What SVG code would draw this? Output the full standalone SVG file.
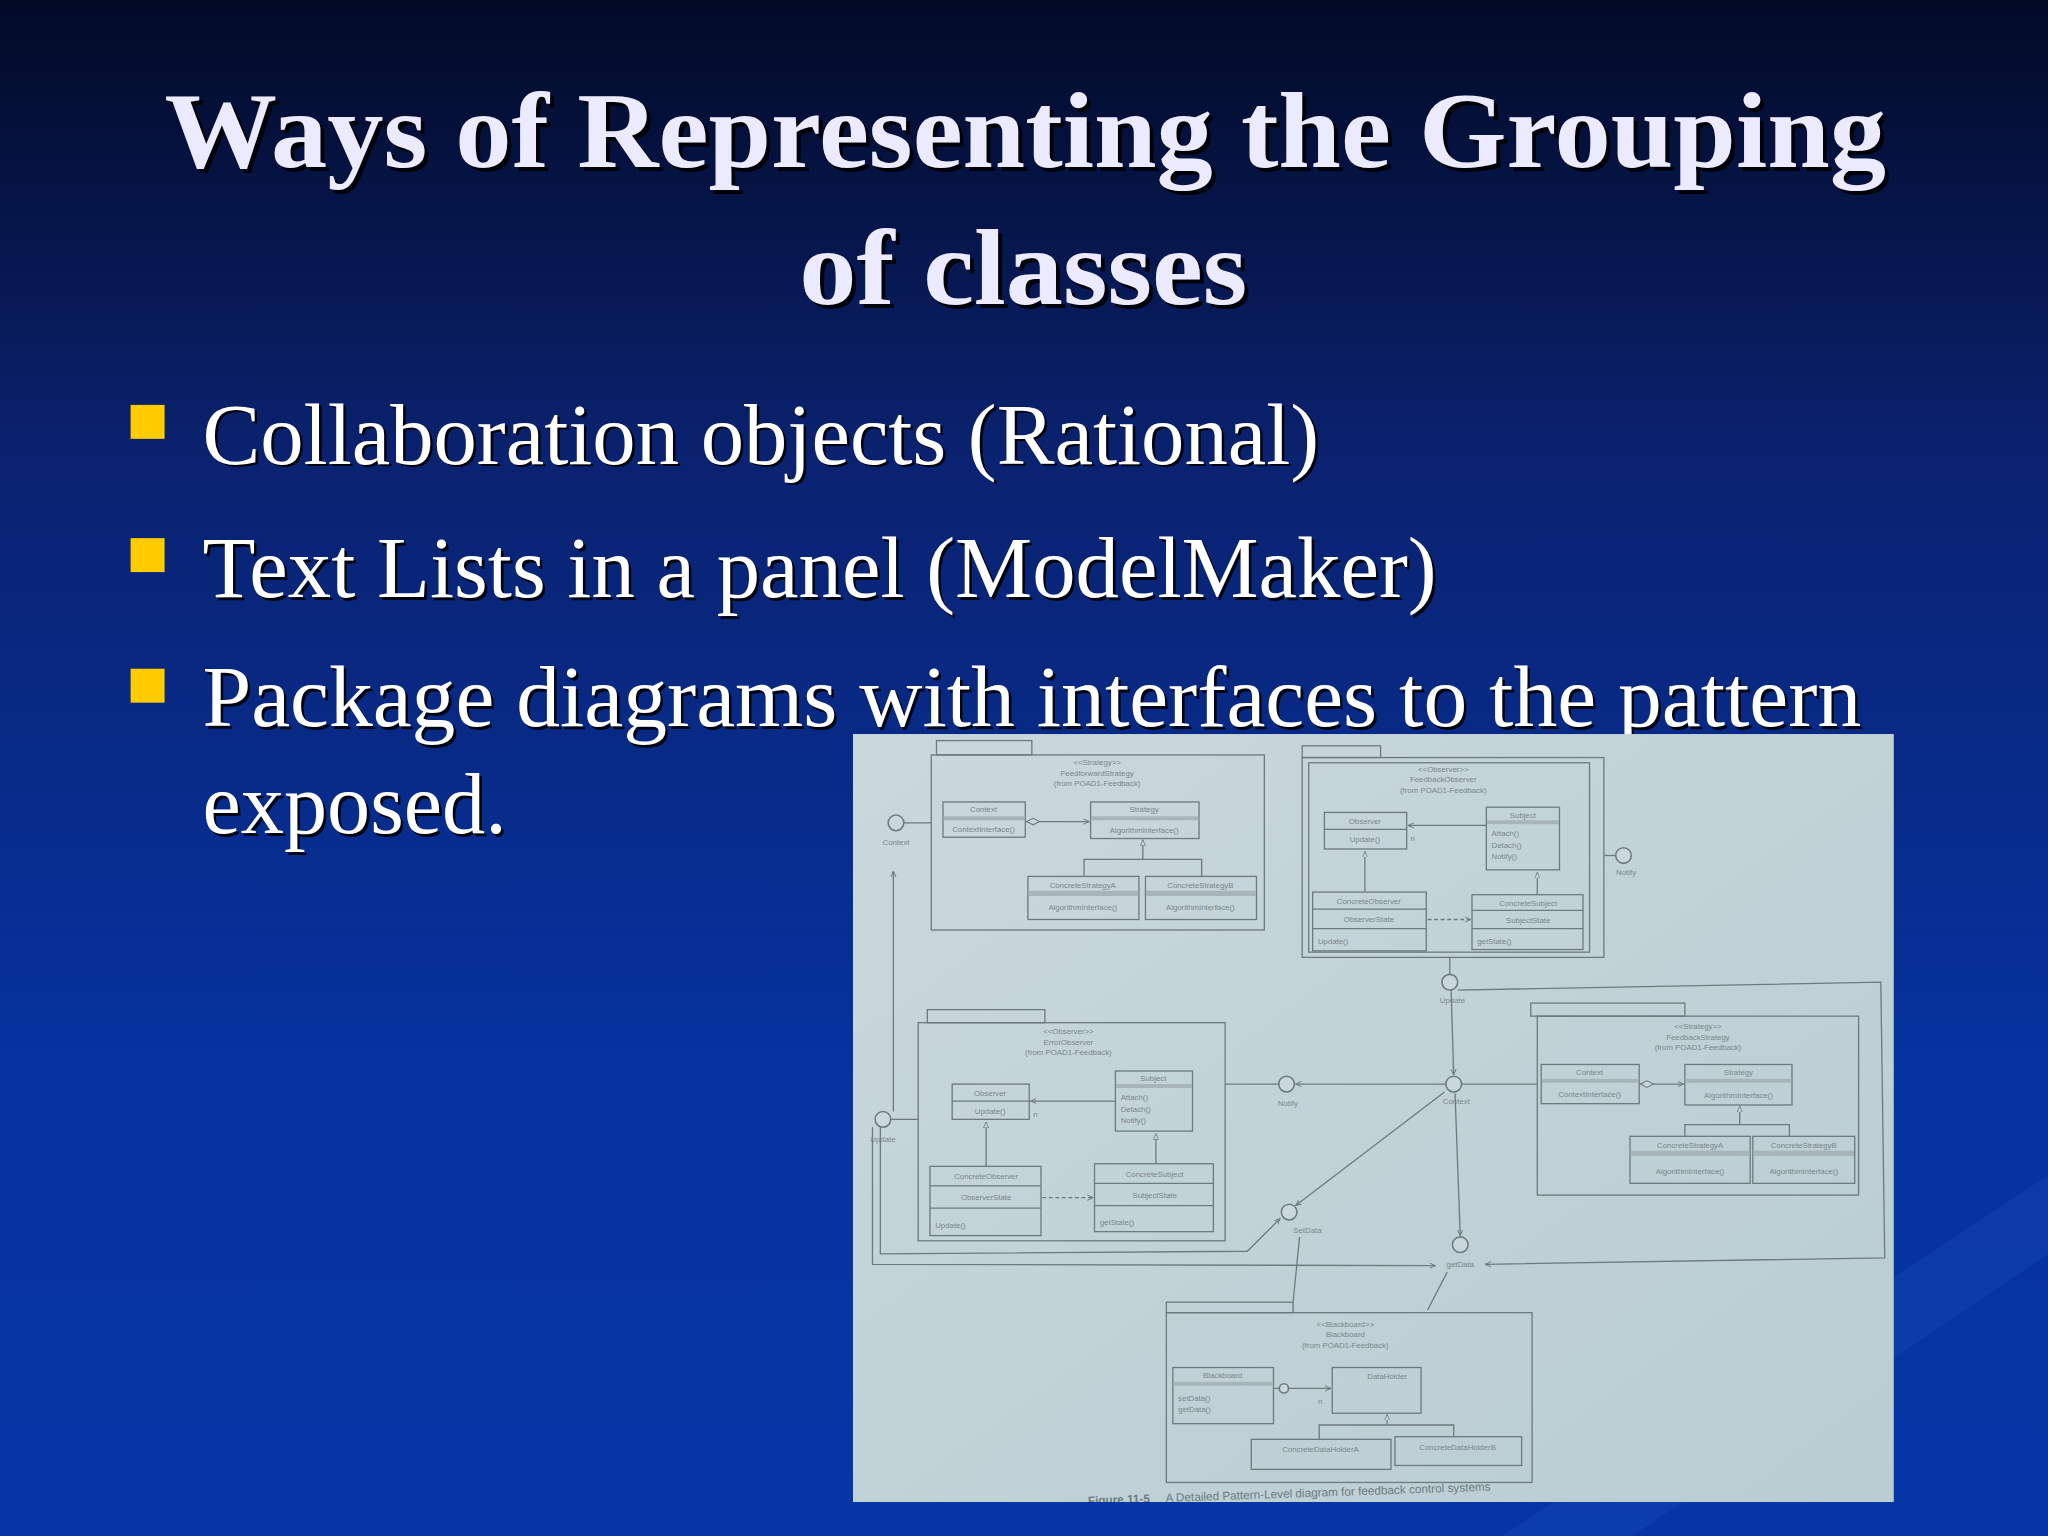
<svg xmlns="http://www.w3.org/2000/svg" width="2048" height="1536" viewBox="0 0 2048 1536">
<defs>
<linearGradient id="bg" x1="0" y1="0" x2="0" y2="1">
<stop offset="0" stop-color="#020a26"/><stop offset="0.3" stop-color="#0a2270"/><stop offset="0.7" stop-color="#0533a0"/><stop offset="1" stop-color="#0636a6"/>
</linearGradient>
<linearGradient id="ph" x1="0" y1="0" x2="1" y2="1">
<stop offset="0" stop-color="#c9d8dc"/><stop offset="1" stop-color="#b9cdd2"/>
</linearGradient>
<marker id="ar" viewBox="0 0 10 10" refX="9" refY="5" markerWidth="5" markerHeight="5" orient="auto"><path d="M0,1 L9,5 L0,9" fill="none" stroke="#6d7a7e" stroke-width="1.5"/></marker>
<marker id="tri" viewBox="0 0 10 10" refX="9" refY="5" markerWidth="5" markerHeight="5" orient="auto"><path d="M0,1 L9,5 L0,9 Z" fill="#c9d8dc" stroke="#6d7a7e" stroke-width="1.2"/></marker>
<clipPath id="pc"><rect x="653" y="562" width="797" height="588"/></clipPath>
<style>
.t{font-family:"Liberation Serif",serif;font-weight:bold;fill:#eceaff;}
.b{font-family:"Liberation Serif",serif;fill:#ffffff;}
.sh{fill:#000;opacity:0.85;}
.f{font-family:"Liberation Sans",Arial,sans-serif;font-size:6px;fill:#7a8689;text-anchor:middle;}
.fl{font-family:"Liberation Sans",Arial,sans-serif;font-size:6px;fill:#7a8689;}
.bx{fill:none;stroke:#6d7a7e;stroke-width:1;}
.band{fill:#a7b5b9;}
.ln{fill:none;stroke:#6d7a7e;stroke-width:1;}
.dl{fill:none;stroke:#6d7a7e;stroke-width:1;stroke-dasharray:3 2;}
.ci{fill:#c9d8dc;stroke:#6d7a7e;stroke-width:1.2;}
</style>
</defs>
<rect width="2048" height="1536" fill="url(#bg)"/>
<g transform="scale(1.30612)">
<path d="M1568,900 L1568,960 L1250,1176 L1150,1176 Z" fill="#1a4ab8" opacity="0.35"/>
<g id="title">
<text class="t sh" x="129" y="131" font-size="82" textLength="1318" lengthAdjust="spacingAndGlyphs">Ways of Representing the Grouping</text>
<text class="t" x="126" y="128" font-size="82" textLength="1318" lengthAdjust="spacingAndGlyphs">Ways of Representing the Grouping</text>
<text class="t sh" x="615" y="236" font-size="82" textLength="343" lengthAdjust="spacingAndGlyphs">of classes</text>
<text class="t" x="612" y="233" font-size="82" textLength="343" lengthAdjust="spacingAndGlyphs">of classes</text>
</g>
<g id="bullets">
<rect x="100" y="310" width="26" height="26" fill="#ffcc00"/>
<rect x="100" y="412" width="26" height="26" fill="#ffcc00"/>
<rect x="100" y="512" width="26" height="26" fill="#ffcc00"/>
<text class="b sh" x="157" y="357" font-size="66" textLength="855" lengthAdjust="spacingAndGlyphs">Collaboration objects (Rational)</text>
<text class="b" x="155" y="355" font-size="66" textLength="855" lengthAdjust="spacingAndGlyphs">Collaboration objects (Rational)</text>
<text class="b sh" x="157" y="459" font-size="66" textLength="945" lengthAdjust="spacingAndGlyphs">Text Lists in a panel (ModelMaker)</text>
<text class="b" x="155" y="457" font-size="66" textLength="945" lengthAdjust="spacingAndGlyphs">Text Lists in a panel (ModelMaker)</text>
<text class="b sh" x="157" y="558" font-size="66" textLength="1270" lengthAdjust="spacingAndGlyphs">Package diagrams with interfaces to the pattern</text>
<text class="b" x="155" y="556" font-size="66" textLength="1270" lengthAdjust="spacingAndGlyphs">Package diagrams with interfaces to the pattern</text>
<text class="b sh" x="157" y="640" font-size="66" textLength="233" lengthAdjust="spacingAndGlyphs">exposed.</text>
<text class="b" x="155" y="638" font-size="66" textLength="233" lengthAdjust="spacingAndGlyphs">exposed.</text>
</g>
<g id="figure" clip-path="url(#pc)">
<rect x="653" y="562" width="797" height="588" fill="url(#ph)"/>

<g id="pkg-feedforward">
<rect class="bx" x="717" y="567" width="73" height="11"/>
<rect class="bx" x="713" y="578" width="255" height="134"/>
<text class="f" x="840" y="586">&lt;&lt;Strategy&gt;&gt;</text>
<text class="f" x="840" y="594">FeedforwardStrategy</text>
<text class="f" x="840" y="602">(from POAD1-Feedback)</text>
<rect class="bx" x="722" y="614" width="63" height="27"/><rect class="band" x="722.5" y="625" width="62" height="3"/><text class="f" x="753" y="622">Context</text><text class="f" x="753" y="637">ContextInterface()</text>
<rect class="bx" x="835" y="614" width="83" height="28"/><rect class="band" x="835.5" y="625" width="82" height="3"/><text class="f" x="876" y="622">Strategy</text><text class="f" x="876" y="638">AlgorithmInterface()</text>
<rect class="bx" x="787" y="671" width="85" height="33"/><rect class="band" x="787.5" y="682" width="84" height="4"/><text class="f" x="829" y="680">ConcreteStrategyA</text><text class="f" x="829" y="697">AlgorithmInterface()</text>
<rect class="bx" x="877" y="671" width="85" height="33"/><rect class="band" x="877.5" y="682" width="84" height="4"/><text class="f" x="919" y="680">ConcreteStrategyB</text><text class="f" x="919" y="697">AlgorithmInterface()</text>
<path class="ln" d="M785,629 L834,629" marker-end="url(#ar)"/><path d="M786,629 l5,-2.5 l5,2.5 l-5,2.5 Z" fill="#c9d8dc" stroke="#6d7a7e" stroke-width="0.8"/>
<path class="ln" d="M830,671 V658 H920 V671 M875,658 V643" marker-end="url(#tri)"/>
</g>

<g id="pkg-feedbackobserver">
<rect class="bx" x="997" y="571" width="60" height="9"/>
<rect class="bx" x="997" y="580" width="231" height="153"/>
<rect class="bx" x="1002" y="584" width="215" height="145"/>
<text class="f" x="1105" y="591">&lt;&lt;Observer&gt;&gt;</text>
<text class="f" x="1105" y="599">FeedbackObserver</text>
<text class="f" x="1105" y="607">(from POAD1-Feedback)</text>
<rect class="bx" x="1014" y="622" width="63" height="28"/><line class="ln" x1="1014" y1="635" x2="1077" y2="635"/><text class="f" x="1045" y="631">Observer</text><text class="f" x="1045" y="645">Update()</text>
<rect class="bx" x="1138" y="618" width="56" height="48"/><rect class="band" x="1138.5" y="628" width="55" height="3"/><text class="f" x="1166" y="626">Subject</text><text class="fl" x="1142" y="640">Attach()</text><text class="fl" x="1142" y="649">Detach()</text><text class="fl" x="1142" y="658">Notify()</text>
<path class="ln" d="M1138,632 L1078,632" marker-end="url(#ar)"/><text class="fl" x="1080" y="644">n</text>
<rect class="bx" x="1005" y="683" width="87" height="45"/><line class="ln" x1="1005" y1="696" x2="1092" y2="696"/><line class="ln" x1="1005" y1="711" x2="1092" y2="711"/><text class="f" x="1048" y="692">ConcreteObserver</text><text class="f" x="1048" y="706">ObserverState</text><text class="fl" x="1009" y="723">Update()</text>
<rect class="bx" x="1127" y="685" width="85" height="42"/><line class="ln" x1="1127" y1="697" x2="1212" y2="697"/><line class="ln" x1="1127" y1="711" x2="1212" y2="711"/><text class="f" x="1170" y="694">ConcreteSubject</text><text class="f" x="1170" y="707">SubjectState</text><text class="fl" x="1131" y="723">getState()</text>
<path class="dl" d="M1093,704 L1126,704" marker-end="url(#ar)"/>
<path class="ln" d="M1045,683 V652" marker-end="url(#tri)"/>
<path class="ln" d="M1177,685 V668" marker-end="url(#tri)"/>
</g>

<g id="pkg-errorobserver">
<rect class="bx" x="710" y="773" width="90" height="10"/>
<rect class="bx" x="703" y="783" width="235" height="167"/>
<text class="f" x="818" y="792">&lt;&lt;Observer&gt;&gt;</text>
<text class="f" x="818" y="800">ErrorObserver</text>
<text class="f" x="818" y="808">(from POAD1-Feedback)</text>
<rect class="bx" x="729" y="830" width="59" height="27"/><line class="ln" x1="729" y1="843" x2="788" y2="843"/><text class="f" x="758" y="839">Observer</text><text class="f" x="758" y="853">Update()</text>
<rect class="bx" x="854" y="820" width="59" height="46"/><rect class="band" x="854.5" y="830" width="58" height="3"/><text class="f" x="883" y="828">Subject</text><text class="fl" x="858" y="842">Attach()</text><text class="fl" x="858" y="851">Detach()</text><text class="fl" x="858" y="860">Notify()</text>
<path class="ln" d="M854,843 L789,843" marker-end="url(#ar)"/><text class="fl" x="791" y="855">n</text>
<rect class="bx" x="712" y="893" width="85" height="53"/><line class="ln" x1="712" y1="908" x2="797" y2="908"/><line class="ln" x1="712" y1="925" x2="797" y2="925"/><text class="f" x="755" y="903">ConcreteObserver</text><text class="f" x="755" y="919">ObserverState</text><text class="fl" x="716" y="940">Update()</text>
<rect class="bx" x="838" y="891" width="91" height="52"/><line class="ln" x1="838" y1="906" x2="929" y2="906"/><line class="ln" x1="838" y1="923" x2="929" y2="923"/><text class="f" x="884" y="901">ConcreteSubject</text><text class="f" x="884" y="917">SubjectState</text><text class="fl" x="842" y="938">getState()</text>
<path class="dl" d="M798,917 L837,917" marker-end="url(#ar)"/>
<path class="ln" d="M755,893 V859" marker-end="url(#tri)"/>
<path class="ln" d="M885,891 V868" marker-end="url(#tri)"/>
</g>

<g id="pkg-feedbackstrategy">
<rect class="bx" x="1172" y="768" width="118" height="10"/>
<rect class="bx" x="1177" y="778" width="246" height="137"/>
<text class="f" x="1300" y="788">&lt;&lt;Strategy&gt;&gt;</text>
<text class="f" x="1300" y="796">FeedbackStrategy</text>
<text class="f" x="1300" y="804">(from POAD1-Feedback)</text>
<rect class="bx" x="1180" y="815" width="75" height="30"/><rect class="band" x="1180.5" y="826" width="74" height="3"/><text class="f" x="1217" y="823">Context</text><text class="f" x="1217" y="840">ContextInterface()</text>
<rect class="bx" x="1290" y="815" width="82" height="31"/><rect class="band" x="1290.5" y="826" width="81" height="3"/><text class="f" x="1331" y="823">Strategy</text><text class="f" x="1331" y="841">AlgorithmInterface()</text>
<rect class="bx" x="1248" y="870" width="92" height="36"/><rect class="band" x="1248.5" y="881" width="91" height="4"/><text class="f" x="1294" y="879">ConcreteStrategyA</text><text class="f" x="1294" y="899">AlgorithmInterface()</text>
<rect class="bx" x="1342" y="870" width="78" height="36"/><rect class="band" x="1342.5" y="881" width="77" height="4"/><text class="f" x="1381" y="879">ConcreteStrategyB</text><text class="f" x="1381" y="899">AlgorithmInterface()</text>
<path class="ln" d="M1255,830 L1289,830" marker-end="url(#ar)"/><path d="M1256,830 l5,-2.5 l5,2.5 l-5,2.5 Z" fill="#c9d8dc" stroke="#6d7a7e" stroke-width="0.8"/>
<path class="ln" d="M1290,870 V861 H1370 V870 M1332,861 V847" marker-end="url(#tri)"/>
</g>

<g id="pkg-blackboard">
<rect class="bx" x="893" y="997" width="97" height="8"/>
<rect class="bx" x="893" y="1005" width="280" height="130"/>
<text class="f" x="1030" y="1016">&lt;&lt;Blackboard&gt;&gt;</text>
<text class="f" x="1030" y="1024">Blackboard</text>
<text class="f" x="1030" y="1032">(from POAD1-Feedback)</text>
<rect class="bx" x="898" y="1047" width="77" height="43"/><rect class="band" x="898.5" y="1058" width="76" height="3"/><text class="f" x="936" y="1055">Blackboard</text><text class="fl" x="902" y="1073">setData()</text><text class="fl" x="902" y="1081">getData()</text>
<rect class="bx" x="1020" y="1047" width="68" height="35"/><text class="f" x="1062" y="1056">DataHolder</text>
<path class="ln" d="M975,1063 L1019,1063" marker-end="url(#ar)"/><circle class="ci" cx="983" cy="1063" r="3.5"/><text class="fl" x="1009" y="1075">n</text>
<rect class="bx" x="958" y="1102" width="107" height="23"/><text class="f" x="1011" y="1112">ConcreteDataHolderA</text>
<rect class="bx" x="1068" y="1100" width="97" height="22"/><text class="f" x="1116" y="1110">ConcreteDataHolderB</text>
<path class="ln" d="M1010,1102 V1091 H1113 V1100 M1062,1091 V1083" marker-end="url(#tri)"/>
</g>

<g id="interfaces">
<circle class="ci" cx="686" cy="630" r="6"/><text class="f" x="686" y="647">Context</text>
<circle class="ci" cx="1243" cy="655" r="6"/><text class="f" x="1245" y="670">Notify</text>
<circle class="ci" cx="1110" cy="752" r="6"/><text class="f" x="1112" y="768">Update</text>
<circle class="ci" cx="676" cy="857" r="6"/><text class="f" x="676" y="874">Update</text>
<circle class="ci" cx="985" cy="830" r="6"/><text class="f" x="986" y="847">Notify</text>
<circle class="ci" cx="1113" cy="830" r="6"/><text class="f" x="1115" y="845">Context</text>
<circle class="ci" cx="987" cy="928" r="6"/><text class="f" x="1001" y="944">SetData</text>
<circle class="ci" cx="1118" cy="953" r="6"/><text class="f" x="1118" y="970">getData</text>
</g>

<g id="connectors">
<path class="ln" d="M692,630 H713"/>
<path class="ln" d="M1237,655 H1228"/>
<path class="ln" d="M1110,733 V746"/>
<path class="ln" d="M682,857 H703"/>
<path class="ln" d="M938,830 H979"/>
<path class="ln" d="M1119,830 H1177"/>
<path class="ln" d="M1116,758 L1440,752 L1443,963 L1137,968" marker-end="url(#ar)"/>
<path class="ln" d="M1111,758 L1113,823" marker-end="url(#ar)"/>
<path class="ln" d="M1107,830 L992,830" marker-end="url(#ar)"/>
<path class="ln" d="M1106,836 L992,923" marker-end="url(#ar)"/>
<path class="ln" d="M1114,837 L1118,946" marker-end="url(#ar)"/>
<path class="ln" d="M684,851 L684,667" marker-end="url(#ar)"/>
<path class="ln" d="M674,863 L674,960 L955,958 L980,933" marker-end="url(#ar)"/>
<path class="ln" d="M668,863 L668,968 L1099,969" marker-end="url(#ar)"/>
<path class="ln" d="M995,947 L990,997"/>
<path class="ln" d="M1108,974 L1093,1003"/>
</g>
<text x="833" y="1152" transform="rotate(-2 833 1152)" font-family="Liberation Sans,Arial,sans-serif" font-size="9" fill="#6d7a7e"><tspan font-weight="bold">Figure 11-5</tspan><tspan dx="12">A Detailed Pattern-Level diagram for feedback control systems</tspan></text>
</g>
</g>
</svg>
